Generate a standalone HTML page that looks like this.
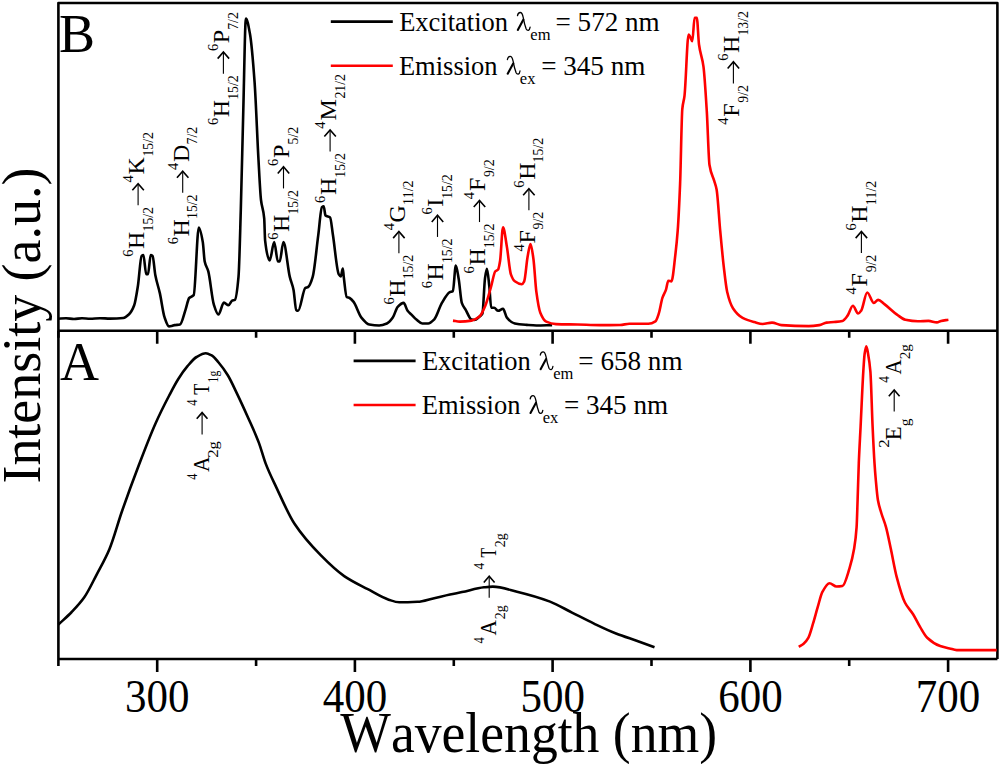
<!DOCTYPE html>
<html><head><meta charset="utf-8"><style>html,body{margin:0;padding:0;background:#fff;}svg{display:block;}text{font-kerning:none;}</style></head>
<body><svg width="1000" height="764" viewBox="0 0 1000 764">
<rect width="1000" height="764" fill="#fff"/>
<path d="M58.4,659.0 V3.0 H997.4 V659.0 M58.4,330.8 H997.4 M58.4,659.0 H997.4" fill="none" stroke="#000" stroke-width="2.6" stroke-linejoin="round"/>
<path d="M58.4,330.8 v7 M58.4,659.0 v7 M157.2,330.8 v13 M157.2,659.0 v13 M256.1,330.8 v7 M256.1,659.0 v7 M354.9,330.8 v13 M354.9,659.0 v13 M453.8,330.8 v7 M453.8,659.0 v7 M552.6,330.8 v13 M552.6,659.0 v13 M651.5,330.8 v7 M651.5,659.0 v7 M750.4,330.8 v13 M750.4,659.0 v13 M849.2,330.8 v7 M849.2,659.0 v7 M948.1,330.8 v13 M948.1,659.0 v13" stroke="#000" stroke-width="2.6" fill="none"/>
<path d="M58.20,318.70 C60.80,318.53 63.40,318.20 66.00,318.20 C68.67,318.20 71.33,319.00 74.00,319.00 C76.67,319.00 79.33,318.30 82.00,318.30 C84.67,318.30 87.33,318.80 90.00,318.80 C93.33,318.80 96.67,318.20 100.00,318.20 C103.33,318.20 106.67,318.60 110.00,318.60 C114.43,318.60 118.87,318.42 123.30,318.00 C125.13,317.82 126.97,316.20 128.80,314.50 C130.60,312.83 132.40,310.07 134.20,305.30 C135.43,302.03 136.67,293.84 137.90,286.00 C139.13,278.16 140.37,256.95 141.60,255.90 C142.20,255.39 142.80,255.00 143.40,255.00 C144.33,255.00 145.27,274.20 146.20,274.20 C146.80,274.20 147.40,274.20 148.00,274.20 C148.90,274.20 149.80,255.00 150.70,255.00 C151.33,255.00 151.97,255.36 152.60,255.90 C153.50,256.66 154.40,270.29 155.30,275.00 C156.83,283.03 158.37,286.48 159.90,293.40 C161.43,300.32 162.97,312.71 164.50,317.20 C166.00,321.59 167.50,326.40 169.00,326.40 C169.93,326.40 170.87,326.19 171.80,326.00 C172.70,325.82 173.60,325.26 174.50,325.10 C176.33,324.78 178.17,324.88 180.00,324.50 C181.83,324.12 183.67,315.27 185.50,309.90 C186.73,306.29 187.97,299.31 189.20,298.00 C190.70,296.40 192.20,296.95 193.70,295.20 C195.40,293.22 197.10,227.50 198.80,227.50 C200.13,227.50 201.47,234.52 202.80,242.10 C203.43,245.70 204.07,258.46 204.70,261.40 C205.90,266.96 207.10,266.96 208.30,271.40 C210.13,278.19 211.97,298.59 213.80,304.40 C215.33,309.26 216.87,314.50 218.40,314.50 C220.23,314.50 222.07,302.60 223.90,302.60 C225.43,302.60 226.97,305.30 228.50,305.30 C229.70,305.30 230.90,301.30 232.10,300.70 C233.03,300.23 233.97,300.35 234.90,299.80 C236.10,299.09 237.30,290.05 238.50,276.90 C239.27,268.50 240.03,235.68 240.80,209.90 C241.63,181.88 242.47,141.20 243.30,110.00 C244.17,77.55 245.03,18.50 245.90,18.50 C247.23,18.50 248.57,26.31 249.90,33.60 C251.47,42.17 253.03,60.81 254.60,82.40 C255.90,100.31 257.20,137.12 258.50,160.00 C259.33,174.66 260.17,192.84 261.00,200.00 C262.07,209.17 263.13,207.11 264.20,218.30 C264.50,221.45 264.80,237.66 265.10,240.30 C266.63,253.77 268.17,260.40 269.70,260.40 C271.20,260.40 272.70,242.10 274.20,242.10 C275.43,242.10 276.67,261.40 277.90,261.40 C278.50,261.40 279.10,261.40 279.70,261.40 C280.93,261.40 282.17,242.10 283.40,242.10 C285.53,242.10 287.67,268.05 289.80,276.90 C291.03,282.01 292.27,283.75 293.50,289.70 C294.40,294.04 295.30,309.14 296.20,309.90 C296.83,310.44 297.47,310.80 298.10,310.80 C300.53,310.80 302.97,289.20 305.40,287.90 C306.30,287.42 307.20,287.49 308.10,287.00 C309.63,286.17 311.17,282.02 312.70,276.90 C314.53,270.77 316.37,249.61 318.20,235.70 C319.43,226.34 320.67,208.35 321.90,207.30 C322.50,206.79 323.10,206.40 323.70,206.40 C324.30,206.40 324.90,215.10 325.50,215.60 C327.03,216.87 328.57,216.18 330.10,217.40 C331.03,218.14 331.97,228.80 332.90,234.80 C334.87,247.43 336.83,271.35 338.80,274.40 C339.47,275.43 340.13,276.40 340.80,276.40 C341.47,276.40 342.13,268.50 342.80,268.50 C343.10,268.50 343.40,274.04 343.70,276.40 C344.70,284.28 345.70,296.35 346.70,297.00 C347.67,297.63 348.63,297.52 349.60,298.00 C350.93,298.66 352.27,300.21 353.60,301.90 C356.20,305.19 358.80,314.43 361.40,317.60 C364.03,320.81 366.67,324.00 369.30,324.50 C372.57,325.11 375.83,325.50 379.10,325.50 C381.70,325.50 384.30,324.59 386.90,323.50 C388.87,322.67 390.83,320.34 392.80,317.60 C394.43,315.33 396.07,308.49 397.70,306.80 C399.67,304.77 401.63,302.90 403.60,302.90 C404.93,302.90 406.27,309.03 407.60,310.80 C408.90,312.52 410.20,313.40 411.50,314.70 C413.13,316.33 414.77,318.29 416.40,319.60 C418.37,321.18 420.33,323.50 422.30,323.50 C424.27,323.50 426.23,323.50 428.20,323.50 C430.17,323.50 432.13,321.54 434.10,319.60 C436.70,317.04 439.30,307.24 441.90,302.90 C444.53,298.50 447.17,293.36 449.80,292.10 C450.83,291.61 451.87,291.75 452.90,291.10 C453.87,290.49 454.83,265.60 455.80,265.60 C456.77,265.60 457.73,273.43 458.70,279.00 C459.73,284.95 460.77,299.85 461.80,302.90 C463.10,306.73 464.40,307.57 465.70,309.80 C467.67,313.18 469.63,319.14 471.60,319.60 C472.57,319.82 473.53,320.00 474.50,320.00 C476.17,320.00 477.83,317.97 479.50,316.60 C480.47,315.80 481.43,315.53 482.40,313.70 C483.27,312.06 484.13,284.59 485.00,278.40 C485.63,273.88 486.27,268.90 486.90,268.90 C487.70,268.90 488.50,279.08 489.30,286.20 C489.93,291.84 490.57,307.80 491.20,307.80 C492.20,307.80 493.20,307.80 494.20,307.80 C495.50,307.80 496.80,310.80 498.10,310.80 C499.73,310.80 501.37,308.80 503.00,308.80 C504.30,308.80 505.60,316.05 506.90,317.60 C509.53,320.73 512.17,322.93 514.80,323.50 C518.73,324.35 522.67,324.59 526.60,324.90 C529.87,325.16 533.13,325.50 536.40,325.50 C541.63,325.50 546.87,325.23 552.10,325.10" fill="none" stroke="#000" stroke-width="2.6" stroke-linejoin="round"/>
<path d="M58.50,624.50 C62.90,620.33 67.30,616.60 71.70,612.00 C75.90,607.61 80.10,603.30 84.30,597.30 C88.47,591.35 92.63,582.27 96.80,574.30 C101.00,566.27 105.20,559.28 109.40,549.20 C113.57,539.20 117.73,523.49 121.90,511.50 C127.50,495.39 133.10,480.14 138.70,465.50 C144.27,450.94 149.83,436.19 155.40,423.70 C160.00,413.38 164.60,404.30 169.20,395.50 C172.23,389.70 175.27,383.78 178.30,379.00 C181.37,374.17 184.43,369.79 187.50,366.20 C190.53,362.65 193.57,358.75 196.60,357.00 C199.67,355.23 202.73,353.30 205.80,353.30 C207.63,353.30 209.47,354.28 211.30,355.20 C213.73,356.42 216.17,359.69 218.60,362.50 C221.67,366.05 224.73,370.28 227.80,375.30 C230.87,380.32 233.93,387.24 237.00,393.60 C240.67,401.21 244.33,409.26 248.00,417.50 C251.67,425.74 255.33,433.30 259.00,443.10 C261.23,449.07 263.47,457.76 265.70,463.60 C269.20,472.75 272.70,479.66 276.20,487.10 C282.30,500.07 288.40,514.51 294.50,523.80 C303.23,537.10 311.97,546.31 320.70,555.20 C328.53,563.18 336.37,570.74 344.20,576.10 C352.07,581.48 359.93,585.06 367.80,589.20 C374.77,592.87 381.73,597.47 388.70,599.70 C392.20,600.82 395.70,602.30 399.20,602.30 C405.30,602.30 411.40,602.10 417.50,601.80 C422.73,601.54 427.97,599.57 433.20,598.40 C438.80,597.15 444.40,595.70 450.00,594.50 C454.00,593.64 458.00,592.93 462.00,592.10 C469.33,590.58 476.67,588.10 484.00,587.30 C486.93,586.98 489.87,586.60 492.80,586.60 C500.87,586.60 508.93,589.72 517.00,591.70 C528.00,594.40 539.00,597.41 550.00,601.60 C557.33,604.40 564.67,608.93 572.00,612.60 C579.33,616.27 586.67,620.13 594.00,623.60 C601.33,627.07 608.67,630.61 616.00,633.50 C623.33,636.39 630.67,638.58 638.00,641.20 C643.50,643.16 649.00,645.20 654.50,647.20" fill="none" stroke="#000" stroke-width="2.6" stroke-linejoin="round"/>
<path d="M453.00,320.60 C455.27,320.93 457.53,321.60 459.80,321.60 C463.73,321.60 467.67,321.20 471.60,320.60 C474.23,320.20 476.87,318.76 479.50,316.60 C481.43,315.01 483.37,310.41 485.30,305.80 C487.27,301.11 489.23,293.09 491.20,286.20 C492.53,281.53 493.87,272.99 495.20,271.50 C496.17,270.42 497.13,270.71 498.10,269.50 C498.77,268.67 499.43,264.83 500.10,260.70 C501.07,254.71 502.03,227.30 503.00,227.30 C504.30,227.30 505.60,239.36 506.90,246.90 C508.23,254.64 509.57,270.66 510.90,274.40 C512.20,278.05 513.50,280.36 514.80,281.30 C517.10,282.96 519.40,284.20 521.70,284.20 C522.53,284.20 523.37,282.91 524.20,281.30 C525.33,279.12 526.47,262.97 527.60,256.80 C528.57,251.54 529.53,244.00 530.50,244.00 C531.47,244.00 532.43,251.98 533.40,258.70 C534.40,265.65 535.40,284.82 536.40,292.10 C537.70,301.56 539.00,309.53 540.30,312.70 C542.27,317.50 544.23,320.69 546.20,321.60 C549.47,323.11 552.73,323.97 556.00,324.10 C563.20,324.38 570.40,324.34 577.60,324.50 C585.07,324.66 592.53,325.10 600.00,325.10 C606.67,325.10 613.33,325.07 620.00,325.00 C623.13,324.97 626.27,323.80 629.40,323.80 C635.70,323.80 642.00,323.80 648.30,323.80 C650.67,323.80 653.03,322.93 655.40,321.40 C656.57,320.65 657.73,316.76 658.90,313.20 C660.07,309.64 661.23,301.43 662.40,297.90 C663.60,294.27 664.80,293.13 666.00,289.60 C666.77,287.34 667.53,280.70 668.30,280.70 C669.33,280.70 670.37,281.40 671.40,281.40 C672.73,281.40 674.07,265.39 675.40,254.30 C676.17,247.93 676.93,241.01 677.70,230.70 C678.50,219.94 679.30,203.56 680.10,183.60 C680.83,165.31 681.57,116.62 682.30,109.10 C683.03,101.58 683.77,101.86 684.50,95.80 C685.87,84.51 687.23,34.50 688.60,34.50 C689.10,34.50 689.60,35.85 690.10,36.70 C690.83,37.94 691.57,41.20 692.30,41.20 C693.07,41.20 693.83,17.80 694.60,17.80 C695.33,17.80 696.07,17.80 696.80,17.80 C697.53,17.80 698.27,39.08 699.00,44.50 C700.50,55.59 702.00,55.66 703.50,66.80 C704.60,74.97 705.70,93.60 706.80,111.40 C707.70,125.97 708.60,159.44 709.50,165.00 C711.10,174.89 712.70,175.60 714.30,181.20 C715.07,183.88 715.83,185.45 716.60,189.50 C717.80,195.84 719.00,217.82 720.20,230.70 C721.37,243.22 722.53,256.13 723.70,266.10 C724.87,276.07 726.03,287.08 727.20,292.00 C729.17,300.30 731.13,305.51 733.10,308.50 C736.27,313.31 739.43,316.20 742.60,317.90 C746.50,319.99 750.40,321.02 754.30,322.10 C757.07,322.86 759.83,324.00 762.60,324.00 C765.73,324.00 768.87,322.60 772.00,322.60 C775.17,322.60 778.33,324.87 781.50,325.10 C790.60,325.77 799.70,326.10 808.80,326.10 C812.30,326.10 815.80,325.64 819.30,325.10 C821.73,324.72 824.17,322.92 826.60,322.60 C829.07,322.28 831.53,322.25 834.00,322.00 C836.80,321.72 839.60,321.59 842.40,320.90 C844.13,320.47 845.87,317.88 847.60,315.60 C849.37,313.28 851.13,305.80 852.90,305.80 C854.63,305.80 856.37,313.50 858.10,313.50 C859.17,313.50 860.23,311.89 861.30,310.40 C863.27,307.65 865.23,292.50 867.20,292.50 C869.43,292.50 871.67,303.00 873.90,303.00 C875.30,303.00 876.70,299.90 878.10,299.90 C880.20,299.90 882.30,302.56 884.40,304.10 C888.60,307.17 892.80,311.65 897.00,314.60 C899.80,316.57 902.60,319.21 905.40,319.80 C909.60,320.68 913.80,321.30 918.00,321.30 C921.50,321.30 925.00,320.90 928.50,320.90 C931.30,320.90 934.10,322.40 936.90,322.40 C938.30,322.40 939.70,321.21 941.10,320.90 C943.53,320.36 945.97,320.17 948.40,319.80" fill="none" stroke="#ff0000" stroke-width="2.6" stroke-linejoin="round"/>
<path d="M798.80,646.80 C800.40,645.77 802.00,645.07 803.60,643.70 C805.17,642.36 806.73,640.57 808.30,637.80 C809.87,635.03 811.43,628.77 813.00,623.70 C814.57,618.63 816.13,612.49 817.70,607.20 C819.27,601.91 820.83,594.78 822.40,591.90 C824.77,587.55 827.13,583.20 829.50,583.20 C831.83,583.20 834.17,586.50 836.50,586.50 C838.47,586.50 840.43,586.31 842.40,586.00 C844.77,585.62 847.13,575.87 849.50,568.30 C851.07,563.29 852.63,557.65 854.20,548.30 C855.00,543.52 855.80,538.56 856.60,527.10 C856.93,522.33 857.27,509.60 857.60,500.00 C858.00,488.48 858.40,472.92 858.80,463.00 C859.40,448.12 860.00,438.68 860.60,426.50 C861.50,408.23 862.40,385.89 863.30,371.60 C863.73,364.72 864.17,357.01 864.60,354.00 C865.17,350.07 865.73,346.30 866.30,346.30 C866.90,346.30 867.50,350.74 868.10,354.00 C868.87,358.16 869.63,362.58 870.40,371.60 C871.13,380.22 871.87,410.58 872.60,426.50 C873.23,440.25 873.87,453.51 874.50,463.20 C874.93,469.83 875.37,475.19 875.80,480.00 C876.50,487.77 877.20,496.05 877.90,500.00 C879.03,506.40 880.17,509.16 881.30,513.00 C882.87,518.30 884.43,521.45 886.00,527.10 C887.57,532.75 889.13,541.02 890.70,548.30 C892.67,557.43 894.63,569.07 896.60,576.60 C899.37,587.19 902.13,597.05 904.90,602.50 C907.63,607.88 910.37,609.90 913.10,614.30 C915.47,618.11 917.83,623.29 920.20,627.20 C922.53,631.05 924.87,635.62 927.20,637.80 C931.53,641.86 935.87,644.60 940.20,646.10 C943.33,647.18 946.47,647.64 949.60,648.40 C951.97,648.97 954.33,650.10 956.70,650.10 C970.03,650.10 983.37,650.10 996.70,650.10" fill="none" stroke="#ff0000" stroke-width="2.6" stroke-linejoin="round"/>
<text transform="translate(157.3,711.6) scale(1,1.065)" x="0" y="0" font-family="Liberation Serif" font-size="43" text-anchor="middle">300</text>
<text transform="translate(355.0,711.6) scale(1,1.065)" x="0" y="0" font-family="Liberation Serif" font-size="43" text-anchor="middle">400</text>
<text transform="translate(552.7,711.6) scale(1,1.065)" x="0" y="0" font-family="Liberation Serif" font-size="43" text-anchor="middle">500</text>
<text transform="translate(750.4,711.6) scale(1,1.065)" x="0" y="0" font-family="Liberation Serif" font-size="43" text-anchor="middle">600</text>
<text transform="translate(948.1,711.6) scale(1,1.065)" x="0" y="0" font-family="Liberation Serif" font-size="43" text-anchor="middle">700</text>
<text x="59" y="52" font-family="Liberation Serif" font-size="54">B</text>
<text x="60" y="380" font-family="Liberation Serif" font-size="54">A</text>
<text x="340.35" y="752" font-family="Liberation Serif" font-size="56" textLength="376.71" lengthAdjust="spacingAndGlyphs">Wavelength (nm)</text>
<g transform="translate(40,0) rotate(-90)"><text x="-483.55" y="0" font-family="Liberation Serif" font-size="55" textLength="315.92" lengthAdjust="spacingAndGlyphs">Intensity (a.u.)</text></g>
<path d="M330.8,21.6 h62" stroke="#000" stroke-width="2.6"/>
<path d="M330.8,65.7 h62" stroke="#ff0000" stroke-width="2.6"/>
<text x="399.14" y="30.9" font-family="Liberation Serif" font-size="26.5">Excitation</text>
<g transform="translate(516.6,30.9)"><path d="M0.9,-15.2 C1.3,-17.4 2.3,-18.4 3.6,-18.4 C5.2,-18.4 6.0,-16.5 6.6,-13.5 C7.4,-9 8.6,-4.5 9.6,-1.9 C10.2,-0.7 11.0,-0.5 11.8,-0.6 C12.8,-0.8 13.3,-2.2 13.5,-3.7" fill="none" stroke="#000" stroke-width="1.3" stroke-linecap="round"/><path d="M6.7,-11.2 L1.2,-1.0" fill="none" stroke="#000" stroke-width="2.1" stroke-linecap="round"/></g>
<text x="530.36" y="40.0" font-family="Liberation Serif" font-size="16.5">em</text>
<text x="555.55" y="30.9" font-family="Liberation Serif" font-size="26.5" textLength="104.17" lengthAdjust="spacingAndGlyphs">= 572 nm</text>
<text x="398.94" y="74.7" font-family="Liberation Serif" font-size="26.5">Emission</text>
<g transform="translate(506.5,74.7)"><path d="M0.9,-15.2 C1.3,-17.4 2.3,-18.4 3.6,-18.4 C5.2,-18.4 6.0,-16.5 6.6,-13.5 C7.4,-9 8.6,-4.5 9.6,-1.9 C10.2,-0.7 11.0,-0.5 11.8,-0.6 C12.8,-0.8 13.3,-2.2 13.5,-3.7" fill="none" stroke="#000" stroke-width="1.3" stroke-linecap="round"/><path d="M6.7,-11.2 L1.2,-1.0" fill="none" stroke="#000" stroke-width="2.1" stroke-linecap="round"/></g>
<text x="519.86" y="83.5" font-family="Liberation Serif" font-size="16.5">ex</text>
<text x="541.15" y="74.7" font-family="Liberation Serif" font-size="26.5" textLength="104.17" lengthAdjust="spacingAndGlyphs">= 345 nm</text>
<path d="M353.6,360.90000000000003 h62" stroke="#000" stroke-width="2.6"/>
<path d="M353.6,405.0 h62" stroke="#ff0000" stroke-width="2.6"/>
<text x="421.94" y="370.2" font-family="Liberation Serif" font-size="26.5">Excitation</text>
<g transform="translate(539.4,370.2)"><path d="M0.9,-15.2 C1.3,-17.4 2.3,-18.4 3.6,-18.4 C5.2,-18.4 6.0,-16.5 6.6,-13.5 C7.4,-9 8.6,-4.5 9.6,-1.9 C10.2,-0.7 11.0,-0.5 11.8,-0.6 C12.8,-0.8 13.3,-2.2 13.5,-3.7" fill="none" stroke="#000" stroke-width="1.3" stroke-linecap="round"/><path d="M6.7,-11.2 L1.2,-1.0" fill="none" stroke="#000" stroke-width="2.1" stroke-linecap="round"/></g>
<text x="553.16" y="379.3" font-family="Liberation Serif" font-size="16.5">em</text>
<text x="578.35" y="370.2" font-family="Liberation Serif" font-size="26.5" textLength="104.17" lengthAdjust="spacingAndGlyphs">= 658 nm</text>
<text x="421.74" y="414.0" font-family="Liberation Serif" font-size="26.5">Emission</text>
<g transform="translate(529.3,414.0)"><path d="M0.9,-15.2 C1.3,-17.4 2.3,-18.4 3.6,-18.4 C5.2,-18.4 6.0,-16.5 6.6,-13.5 C7.4,-9 8.6,-4.5 9.6,-1.9 C10.2,-0.7 11.0,-0.5 11.8,-0.6 C12.8,-0.8 13.3,-2.2 13.5,-3.7" fill="none" stroke="#000" stroke-width="1.3" stroke-linecap="round"/><path d="M6.7,-11.2 L1.2,-1.0" fill="none" stroke="#000" stroke-width="2.1" stroke-linecap="round"/></g>
<text x="542.66" y="422.8" font-family="Liberation Serif" font-size="16.5">ex</text>
<text x="563.95" y="414.0" font-family="Liberation Serif" font-size="26.5" textLength="104.17" lengthAdjust="spacingAndGlyphs">= 345 nm</text>
<g transform="translate(144.0,248.2) rotate(-90)"><text x="-8.52" y="-11.0" font-family="Liberation Serif" font-size="14.5">6</text><text x="-0.69" y="0" font-family="Liberation Serif" font-size="24">H</text><text x="16.73" y="8.5" font-family="Liberation Serif" font-size="14.5" textLength="24.49" lengthAdjust="spacingAndGlyphs">15/2</text><path d="M42.86,-5.9 H63.46" fill="none" stroke="#000" stroke-width="1.12"/><path d="M57.86,-11.64 L64.46,-5.9 L57.86,-0.16" fill="none" stroke="#000" stroke-width="1.61" stroke-linejoin="miter"/><text x="65.77" y="-11.0" font-family="Liberation Serif" font-size="14.5">4</text><text x="73.81" y="0" font-family="Liberation Serif" font-size="24">K</text><text x="91.68" y="8.5" font-family="Liberation Serif" font-size="14.5" textLength="24.49" lengthAdjust="spacingAndGlyphs">15/2</text></g>
<g transform="translate(188.6,235.7) rotate(-90)"><text x="-8.52" y="-11.0" font-family="Liberation Serif" font-size="14.5">6</text><text x="-0.69" y="0" font-family="Liberation Serif" font-size="24">H</text><text x="16.73" y="8.5" font-family="Liberation Serif" font-size="14.5" textLength="24.49" lengthAdjust="spacingAndGlyphs">15/2</text><path d="M42.86,-5.9 H63.46" fill="none" stroke="#000" stroke-width="1.12"/><path d="M57.86,-11.64 L64.46,-5.9 L57.86,-0.16" fill="none" stroke="#000" stroke-width="1.61" stroke-linejoin="miter"/><text x="65.77" y="-11.0" font-family="Liberation Serif" font-size="14.5">4</text><text x="73.81" y="0" font-family="Liberation Serif" font-size="24">D</text><text x="91.27" y="8.5" font-family="Liberation Serif" font-size="14.5" textLength="17.60" lengthAdjust="spacingAndGlyphs">7/2</text></g>
<g transform="translate(229.3,116.5) rotate(-90)"><text x="-8.52" y="-11.0" font-family="Liberation Serif" font-size="14.5">6</text><text x="-0.69" y="0" font-family="Liberation Serif" font-size="24">H</text><text x="16.73" y="8.5" font-family="Liberation Serif" font-size="14.5" textLength="24.49" lengthAdjust="spacingAndGlyphs">15/2</text><path d="M42.86,-5.9 H63.46" fill="none" stroke="#000" stroke-width="1.12"/><path d="M57.86,-11.64 L64.46,-5.9 L57.86,-0.16" fill="none" stroke="#000" stroke-width="1.61" stroke-linejoin="miter"/><text x="65.43" y="-11.0" font-family="Liberation Serif" font-size="14.5">6</text><text x="73.26" y="0" font-family="Liberation Serif" font-size="24">P</text><text x="86.74" y="8.5" font-family="Liberation Serif" font-size="14.5" textLength="17.60" lengthAdjust="spacingAndGlyphs">7/2</text></g>
<g transform="translate(289.4,231.3) rotate(-90)"><text x="-8.52" y="-11.0" font-family="Liberation Serif" font-size="14.5">6</text><text x="-0.69" y="0" font-family="Liberation Serif" font-size="24">H</text><text x="16.73" y="8.5" font-family="Liberation Serif" font-size="14.5" textLength="24.49" lengthAdjust="spacingAndGlyphs">15/2</text><path d="M42.86,-5.9 H63.46" fill="none" stroke="#000" stroke-width="1.12"/><path d="M57.86,-11.64 L64.46,-5.9 L57.86,-0.16" fill="none" stroke="#000" stroke-width="1.61" stroke-linejoin="miter"/><text x="65.43" y="-11.0" font-family="Liberation Serif" font-size="14.5">6</text><text x="73.26" y="0" font-family="Liberation Serif" font-size="24">P</text><text x="86.85" y="8.5" font-family="Liberation Serif" font-size="14.5" textLength="17.60" lengthAdjust="spacingAndGlyphs">5/2</text></g>
<g transform="translate(336.0,194.4) rotate(-90)"><text x="-8.52" y="-11.0" font-family="Liberation Serif" font-size="14.5">6</text><text x="-0.69" y="0" font-family="Liberation Serif" font-size="24">H</text><text x="16.73" y="8.5" font-family="Liberation Serif" font-size="14.5" textLength="24.49" lengthAdjust="spacingAndGlyphs">15/2</text><path d="M42.86,-5.9 H63.46" fill="none" stroke="#000" stroke-width="1.12"/><path d="M57.86,-11.64 L64.46,-5.9 L57.86,-0.16" fill="none" stroke="#000" stroke-width="1.61" stroke-linejoin="miter"/><text x="65.77" y="-11.0" font-family="Liberation Serif" font-size="14.5">4</text><text x="73.81" y="0" font-family="Liberation Serif" font-size="24">M</text><text x="95.84" y="8.5" font-family="Liberation Serif" font-size="14.5" textLength="24.49" lengthAdjust="spacingAndGlyphs">21/2</text></g>
<g transform="translate(404.8,296.0) rotate(-90)"><text x="-8.52" y="-11.0" font-family="Liberation Serif" font-size="14.5">6</text><text x="-0.69" y="0" font-family="Liberation Serif" font-size="24">H</text><text x="16.73" y="8.5" font-family="Liberation Serif" font-size="14.5" textLength="24.49" lengthAdjust="spacingAndGlyphs">15/2</text><path d="M42.86,-5.9 H63.46" fill="none" stroke="#000" stroke-width="1.12"/><path d="M57.86,-11.64 L64.46,-5.9 L57.86,-0.16" fill="none" stroke="#000" stroke-width="1.61" stroke-linejoin="miter"/><text x="65.77" y="-11.0" font-family="Liberation Serif" font-size="14.5">4</text><text x="73.51" y="0" font-family="Liberation Serif" font-size="24">G</text><text x="90.88" y="8.5" font-family="Liberation Serif" font-size="14.5" textLength="24.49" lengthAdjust="spacingAndGlyphs">11/2</text></g>
<g transform="translate(443.4,279.8) rotate(-90)"><text x="-8.52" y="-11.0" font-family="Liberation Serif" font-size="14.5">6</text><text x="-0.69" y="0" font-family="Liberation Serif" font-size="24">H</text><text x="16.73" y="8.5" font-family="Liberation Serif" font-size="14.5" textLength="24.49" lengthAdjust="spacingAndGlyphs">15/2</text><path d="M42.86,-5.9 H63.46" fill="none" stroke="#000" stroke-width="1.12"/><path d="M57.86,-11.64 L64.46,-5.9 L57.86,-0.16" fill="none" stroke="#000" stroke-width="1.61" stroke-linejoin="miter"/><text x="65.43" y="-11.0" font-family="Liberation Serif" font-size="14.5">6</text><text x="73.08" y="0" font-family="Liberation Serif" font-size="24">I</text><text x="81.02" y="8.5" font-family="Liberation Serif" font-size="14.5" textLength="24.49" lengthAdjust="spacingAndGlyphs">15/2</text></g>
<g transform="translate(485.4,264.9) rotate(-90)"><text x="-8.52" y="-11.0" font-family="Liberation Serif" font-size="14.5">6</text><text x="-0.69" y="0" font-family="Liberation Serif" font-size="24">H</text><text x="16.73" y="8.5" font-family="Liberation Serif" font-size="14.5" textLength="24.49" lengthAdjust="spacingAndGlyphs">15/2</text><path d="M42.86,-5.9 H63.46" fill="none" stroke="#000" stroke-width="1.12"/><path d="M57.86,-11.64 L64.46,-5.9 L57.86,-0.16" fill="none" stroke="#000" stroke-width="1.61" stroke-linejoin="miter"/><text x="65.77" y="-11.0" font-family="Liberation Serif" font-size="14.5">4</text><text x="73.81" y="0" font-family="Liberation Serif" font-size="24">F</text><text x="87.84" y="8.5" font-family="Liberation Serif" font-size="14.5" textLength="17.60" lengthAdjust="spacingAndGlyphs">9/2</text></g>
<g transform="translate(534.8,242.8) rotate(-90)"><text x="-8.72" y="-11.0" font-family="Liberation Serif" font-size="14.5">4</text><text x="-0.69" y="0" font-family="Liberation Serif" font-size="24">F</text><text x="13.35" y="8.5" font-family="Liberation Serif" font-size="14.5" textLength="17.60" lengthAdjust="spacingAndGlyphs">9/2</text><path d="M32.59,-5.9 H53.19" fill="none" stroke="#000" stroke-width="1.12"/><path d="M47.59,-11.64 L54.19,-5.9 L47.59,-0.16" fill="none" stroke="#000" stroke-width="1.61" stroke-linejoin="miter"/><text x="55.16" y="-11.0" font-family="Liberation Serif" font-size="14.5">6</text><text x="62.99" y="0" font-family="Liberation Serif" font-size="24">H</text><text x="80.41" y="8.5" font-family="Liberation Serif" font-size="14.5" textLength="24.49" lengthAdjust="spacingAndGlyphs">15/2</text></g>
<g transform="translate(739.3,116.0) rotate(-90)"><text x="-8.72" y="-11.0" font-family="Liberation Serif" font-size="14.5">4</text><text x="-0.69" y="0" font-family="Liberation Serif" font-size="24">F</text><text x="13.35" y="8.5" font-family="Liberation Serif" font-size="14.5" textLength="17.60" lengthAdjust="spacingAndGlyphs">9/2</text><path d="M32.59,-5.9 H53.19" fill="none" stroke="#000" stroke-width="1.12"/><path d="M47.59,-11.64 L54.19,-5.9 L47.59,-0.16" fill="none" stroke="#000" stroke-width="1.61" stroke-linejoin="miter"/><text x="55.16" y="-11.0" font-family="Liberation Serif" font-size="14.5">6</text><text x="62.99" y="0" font-family="Liberation Serif" font-size="24">H</text><text x="80.41" y="8.5" font-family="Liberation Serif" font-size="14.5" textLength="24.49" lengthAdjust="spacingAndGlyphs">13/2</text></g>
<g transform="translate(867.3,285.7) rotate(-90)"><text x="-8.72" y="-11.0" font-family="Liberation Serif" font-size="14.5">4</text><text x="-0.69" y="0" font-family="Liberation Serif" font-size="24">F</text><text x="13.35" y="8.5" font-family="Liberation Serif" font-size="14.5" textLength="17.60" lengthAdjust="spacingAndGlyphs">9/2</text><path d="M32.59,-5.9 H53.19" fill="none" stroke="#000" stroke-width="1.12"/><path d="M47.59,-11.64 L54.19,-5.9 L47.59,-0.16" fill="none" stroke="#000" stroke-width="1.61" stroke-linejoin="miter"/><text x="55.16" y="-11.0" font-family="Liberation Serif" font-size="14.5">6</text><text x="62.99" y="0" font-family="Liberation Serif" font-size="24">H</text><text x="80.41" y="8.5" font-family="Liberation Serif" font-size="14.5" textLength="24.49" lengthAdjust="spacingAndGlyphs">11/2</text></g>
<g transform="translate(208.6,479.6) rotate(-90)"><text x="-0.24" y="-12.1" font-family="Liberation Serif" font-size="14" textLength="6.13" lengthAdjust="spacingAndGlyphs">4</text><text x="7.59" y="0" font-family="Liberation Serif" font-size="24" textLength="15.57" lengthAdjust="spacingAndGlyphs">A</text><text x="21.76" y="9.2" font-family="Liberation Serif" font-size="15" textLength="16.76" lengthAdjust="spacingAndGlyphs">2g</text><path d="M45.00,-6.5 H66.00" fill="none" stroke="#000" stroke-width="1.12"/><path d="M60.80,-11.89 L67.00,-6.5 L60.80,-1.11" fill="none" stroke="#000" stroke-width="1.61" stroke-linejoin="miter"/><text x="73.86" y="-12.1" font-family="Liberation Serif" font-size="14" textLength="6.24" lengthAdjust="spacingAndGlyphs">4</text><text x="84.77" y="0" font-family="Liberation Serif" font-size="24" textLength="11.13" lengthAdjust="spacingAndGlyphs">T</text><text x="97.18" y="9.2" font-family="Liberation Serif" font-size="15" textLength="11.65" lengthAdjust="spacingAndGlyphs">1g</text></g>
<g transform="translate(495.7,643.3) rotate(-90)"><text x="-0.24" y="-12.1" font-family="Liberation Serif" font-size="14" textLength="6.24" lengthAdjust="spacingAndGlyphs">4</text><text x="7.69" y="0" font-family="Liberation Serif" font-size="24" textLength="15.47" lengthAdjust="spacingAndGlyphs">A</text><text x="23.99" y="9.2" font-family="Liberation Serif" font-size="15" textLength="13.98" lengthAdjust="spacingAndGlyphs">2g</text><path d="M45.60,-6.5 H66.00" fill="none" stroke="#000" stroke-width="1.12"/><path d="M60.80,-11.89 L67.00,-6.5 L60.80,-1.11" fill="none" stroke="#000" stroke-width="1.61" stroke-linejoin="miter"/><text x="73.84" y="-12.1" font-family="Liberation Serif" font-size="14" textLength="6.78" lengthAdjust="spacingAndGlyphs">4</text><text x="85.82" y="0" font-family="Liberation Serif" font-size="24" textLength="9.44" lengthAdjust="spacingAndGlyphs">T</text><text x="95.99" y="9.2" font-family="Liberation Serif" font-size="15" textLength="13.98" lengthAdjust="spacingAndGlyphs">2g</text></g>
<g transform="translate(900.7,447.0) rotate(-90)"><text x="-0.75" y="-12.1" font-family="Liberation Serif" font-size="14" textLength="8.48" lengthAdjust="spacingAndGlyphs">2</text><text x="6.65" y="0" font-family="Liberation Serif" font-size="24" textLength="13.89" lengthAdjust="spacingAndGlyphs">E</text><text x="20.83" y="9.2" font-family="Liberation Serif" font-size="15" textLength="7.76" lengthAdjust="spacingAndGlyphs">g</text><path d="M35.60,-6.5 H56.00" fill="none" stroke="#000" stroke-width="1.12"/><path d="M50.80,-11.89 L57.00,-6.5 L50.80,-1.11" fill="none" stroke="#000" stroke-width="1.61" stroke-linejoin="miter"/><text x="64.14" y="-12.1" font-family="Liberation Serif" font-size="14" textLength="6.67" lengthAdjust="spacingAndGlyphs">4</text><text x="72.50" y="0" font-family="Liberation Serif" font-size="24" textLength="15.06" lengthAdjust="spacingAndGlyphs">A</text><text x="87.73" y="9.2" font-family="Liberation Serif" font-size="15" textLength="15.15" lengthAdjust="spacingAndGlyphs">2g</text></g>
</svg></body></html>
